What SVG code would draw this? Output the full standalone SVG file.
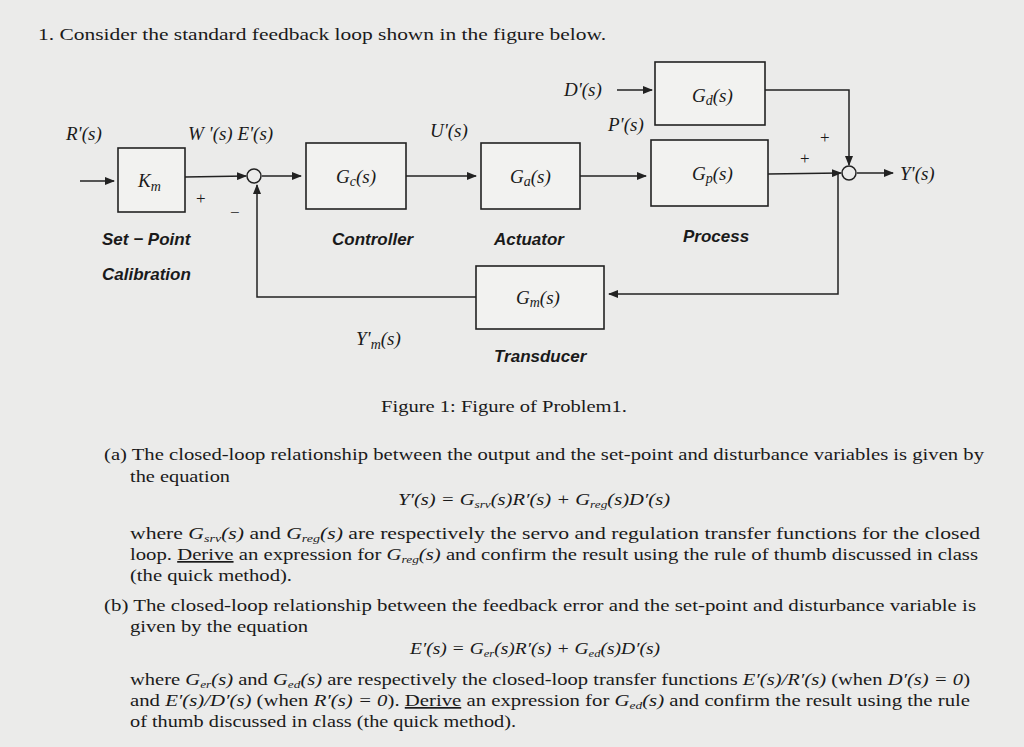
<svg xmlns="http://www.w3.org/2000/svg" width="1024" height="747" viewBox="0 0 1024 747">
<defs>
<marker id="ah" markerWidth="10" markerHeight="8" refX="9" refY="4" orient="auto" markerUnits="userSpaceOnUse"><path d="M0,0 L10,4 L0,8 Z" fill="#222"/></marker>
<style>
.b{fill:#f2f2f0;stroke:#222;stroke-width:1.6}
.c{fill:none;stroke:#222;stroke-width:1.5}
.t{font-family:"Liberation Serif",serif;font-size:17px;fill:#1a1a1a}
.l{font-family:"Liberation Serif",serif;font-size:19px;font-style:italic;fill:#1a1a1a}
.k{font-family:"Liberation Sans",sans-serif;font-size:17px;font-style:italic;font-weight:bold;fill:#1a1a1a}
</style>
</defs>
<rect width="1024" height="747" fill="#ebebea"/>
<text class="t" x="38" y="40" textLength="568" lengthAdjust="spacingAndGlyphs">1.  Consider the standard feedback loop shown in the figure below.</text>
<g id="connectors">
<line class="c" x1="80" y1="181" x2="114" y2="181" marker-end="url(#ah)"/>
<line class="c" x1="185" y1="177" x2="246" y2="176" marker-end="url(#ah)"/>
<line class="c" x1="262" y1="176" x2="301" y2="176" marker-end="url(#ah)"/>
<line class="c" x1="406" y1="176" x2="476" y2="176" marker-end="url(#ah)"/>
<line class="c" x1="580" y1="176" x2="646" y2="176" marker-end="url(#ah)"/>
<line class="c" x1="768" y1="174" x2="841" y2="173" marker-end="url(#ah)"/>
<line class="c" x1="857" y1="173" x2="893" y2="173" marker-end="url(#ah)"/>
<polyline class="c" points="765,90 849,90 849,165" marker-end="url(#ah)"/>
<line class="c" x1="617" y1="90" x2="652" y2="90" marker-end="url(#ah)"/>
<polyline class="c" points="838,173 838,294 609,294" marker-end="url(#ah)"/>
<polyline class="c" points="476,297 257,297 257,185" marker-end="url(#ah)"/>
</g>
<g id="km"><rect class="b" x="118" y="148" width="67" height="64"/><text class="l" x="138" y="187">K<tspan font-size="14" dy="4">m</tspan></text></g>
<g id="sum1"><circle class="c" cx="254" cy="176" r="7"/></g>
<g id="gc"><rect class="b" x="306" y="143" width="100" height="66"/><text class="l" x="336" y="183">G<tspan font-size="14" dy="3">c</tspan><tspan dy="-3">(s)</tspan></text></g>
<g id="ga"><rect class="b" x="481" y="143" width="99" height="66"/><text class="l" x="510" y="183">G<tspan font-size="14" dy="3">a</tspan><tspan dy="-3">(s)</tspan></text></g>
<g id="gp"><rect class="b" x="651" y="140" width="117" height="66"/><text class="l" x="692" y="180">G<tspan font-size="14" dy="3">p</tspan><tspan dy="-3">(s)</tspan></text></g>
<g id="gd"><rect class="b" x="655" y="62" width="110" height="63"/><text class="l" x="692" y="102">G<tspan font-size="14" dy="3">d</tspan><tspan dy="-3">(s)</tspan></text></g>
<g id="gm"><rect class="b" x="476" y="266" width="128" height="63"/><text class="l" x="516" y="304">G<tspan font-size="14" dy="3">m</tspan><tspan dy="-3">(s)</tspan></text></g>
<g id="sum2"><circle class="c" cx="849" cy="173" r="7"/></g>
<g id="labels">
<text class="l" x="66" y="140">R'(s)</text>
<text class="l" x="188" y="140">W '(s)  E'(s)</text>
<text class="l" x="430" y="137">U'(s)</text>
<text class="l" x="564" y="96">D'(s)</text>
<text class="l" x="608" y="131">P'(s)</text>
<text class="l" x="900" y="180">Y'(s)</text>
<text class="l" x="356" y="345">Y'<tspan font-size="14" dy="4">m</tspan><tspan dy="-4">(s)</tspan></text>
<text class="t" x="196" y="204" font-size="14">+</text>
<text class="t" x="230" y="218" font-size="14">−</text>
<text class="t" x="820" y="143" font-size="14">+</text>
<text class="t" x="800" y="164" font-size="14">+</text>
<text class="k" x="102" y="245">Set − Point</text>
<text class="k" x="102" y="280">Calibration</text>
<text class="k" x="332" y="245">Controller</text>
<text class="k" x="494" y="245">Actuator</text>
<text class="k" x="683" y="242">Process</text>
<text class="k" x="494" y="362">Transducer</text>
</g>
<g id="text" class="t">
<text x="381" y="412" textLength="246" lengthAdjust="spacingAndGlyphs">Figure 1: Figure of Problem1.</text>
<text x="104" y="460" textLength="880" lengthAdjust="spacingAndGlyphs">(a)  The closed-loop relationship between the output and the set-point and disturbance variables is given by</text>
<text x="130" y="482" textLength="100" lengthAdjust="spacingAndGlyphs">the equation</text>
<text x="398" y="505" font-style="italic" textLength="272" lengthAdjust="spacingAndGlyphs">Y′(s) = G<tspan font-size="11" dy="3">srv</tspan><tspan dy="-3">(s)R′(s) + G</tspan><tspan font-size="11" dy="3">reg</tspan><tspan dy="-3">(s)D′(s)</tspan></text>
<text x="130" y="539" textLength="850" lengthAdjust="spacingAndGlyphs">where <tspan font-style="italic">G<tspan font-size="11" dy="3">srv</tspan><tspan dy="-3">(s)</tspan></tspan> and <tspan font-style="italic">G<tspan font-size="11" dy="3">reg</tspan><tspan dy="-3">(s)</tspan></tspan> are respectively the servo and regulation transfer functions for the closed</text>
<text x="130" y="560" textLength="848" lengthAdjust="spacingAndGlyphs">loop. <tspan text-decoration="underline">Derive</tspan> an expression for <tspan font-style="italic">G<tspan font-size="11" dy="3">reg</tspan><tspan dy="-3">(s)</tspan></tspan> and confirm the result using the rule of thumb discussed in class</text>
<text x="130" y="581" textLength="162" lengthAdjust="spacingAndGlyphs">(the quick method).</text>
<text x="104" y="611" textLength="872" lengthAdjust="spacingAndGlyphs">(b)  The closed-loop relationship between the feedback error and the set-point and disturbance variable is</text>
<text x="130" y="632" textLength="178" lengthAdjust="spacingAndGlyphs">given by the equation</text>
<text x="410" y="654" font-style="italic" textLength="250" lengthAdjust="spacingAndGlyphs">E′(s) = G<tspan font-size="11" dy="3">er</tspan><tspan dy="-3">(s)R′(s) + G</tspan><tspan font-size="11" dy="3">ed</tspan><tspan dy="-3">(s)D′(s)</tspan></text>
<text x="130" y="685" textLength="840" lengthAdjust="spacingAndGlyphs">where <tspan font-style="italic">G<tspan font-size="11" dy="3">er</tspan><tspan dy="-3">(s)</tspan></tspan> and <tspan font-style="italic">G<tspan font-size="11" dy="3">ed</tspan><tspan dy="-3">(s)</tspan></tspan> are respectively the closed-loop transfer functions <tspan font-style="italic">E′(s)/R′(s)</tspan> (when <tspan font-style="italic">D′(s) = 0</tspan>)</text>
<text x="130" y="706" textLength="840" lengthAdjust="spacingAndGlyphs">and <tspan font-style="italic">E′(s)/D′(s)</tspan> (when <tspan font-style="italic">R′(s) = 0</tspan>). <tspan text-decoration="underline">Derive</tspan> an expression for <tspan font-style="italic">G<tspan font-size="11" dy="3">ed</tspan><tspan dy="-3">(s)</tspan></tspan> and confirm the result using the rule</text>
<text x="130" y="727" textLength="386" lengthAdjust="spacingAndGlyphs">of thumb discussed in class (the quick method).</text>
</g>
</svg>
